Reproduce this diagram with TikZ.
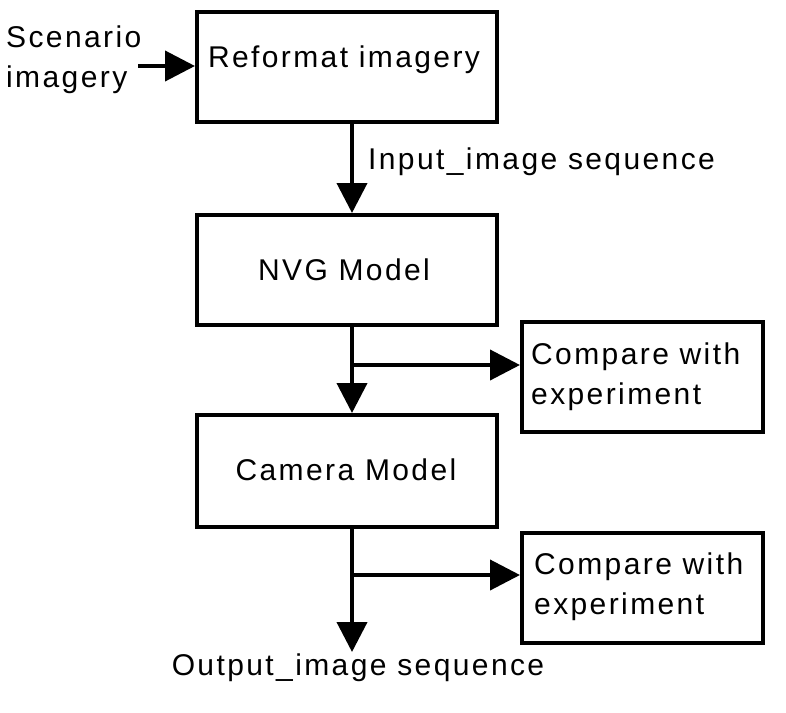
\documentclass[tikz,border=0pt]{standalone}
\usepackage{fontspec}
\setmainfont[LetterSpace=8]{Liberation Sans}
\usetikzlibrary{arrows.meta}
\begin{document}
\begin{tikzpicture}[x=1pt,y=-1pt,
 txt/.style={font=\fontsize{30}{40}\selectfont,align=left,inner sep=0pt},
 bx/.style={line width=4pt},
 arr/.style={line width=4pt,-{Triangle[length=30pt,width=30pt]}}]
\useasboundingbox (0,0) rectangle (786,712);
\draw[bx] (197,12) rectangle (497,122);
\node[txt] (r) at (344,60) {Reformat imagery};
\draw[bx] (197,215) rectangle (497,325);
\node[txt] (n) at (344,270) {NVG Model};
\draw[bx] (197,415) rectangle (497,527);
\node[txt] (c) at (346,470) {Camera Model};
\draw[bx] (522,322) rectangle (763,432);
\node[txt] (c1) at (531,377) [anchor=west] {Compare with\\experiment};
\draw[bx] (522,533) rectangle (763,643);
\node[txt] (c2) at (534,587) [anchor=west] {Compare with\\experiment};
\node[txt,anchor=west] (s) at (6,60) {Scenario\\imagery};
\node[txt,anchor=west] (i) at (368,162) {Input\_image sequence};
\node[txt] (o) at (358,668) {Output\_image sequence};
\coordinate (sa) at (138,66); \coordinate (sb) at (195,66);
\draw[arr] (sa) -- (sb);
\coordinate (a1) at (352,124); \coordinate (a2) at (352,213);
\draw[arr] (a1) -- (a2);
\coordinate (b1) at (352,327); \coordinate (b2) at (352,413);
\draw[arr] (b1) -- (b2);
\coordinate (d1) at (352,529); \coordinate (d2) at (352,652);
\draw[arr] (d1) -- (d2);
\coordinate (e1) at (352,365); \coordinate (e2) at (520,365);
\draw[arr] (e1) -- (e2);
\coordinate (f1) at (352,575); \coordinate (f2) at (520,575);
\draw[arr] (f1) -- (f2);
\end{tikzpicture}
\end{document}
